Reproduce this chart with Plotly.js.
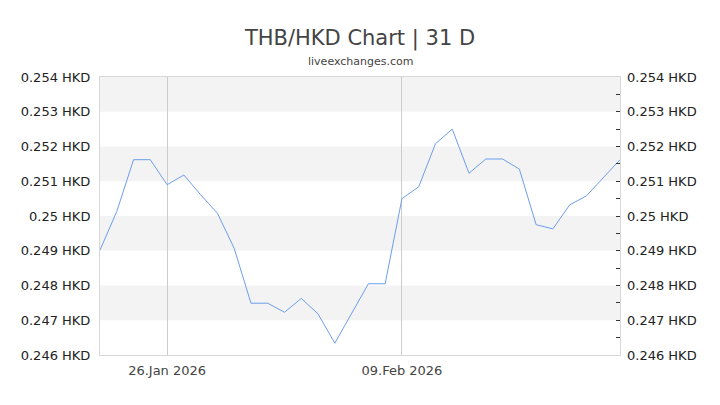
<!DOCTYPE html>
<html>
<head>
<meta charset="utf-8">
<script src="https://cdn.plot.ly/plotly-3.0.1.min.js"></script>
<style>html,body{margin:0;padding:0;background:#fff;}#chart{width:720px;height:405px;}</style>
</head>
<body>
<div id="chart"></div>
<script>
// Data
const startDate = '2026-01-22';
const rates = [
  0.24902, 0.25013, 0.25162, 0.25162, 0.25090, 0.25118, 0.25061, 0.25008,
  0.24907, 0.24749, 0.24749, 0.24723, 0.24763, 0.24718, 0.24634, 0.24719,
  0.24805, 0.24805, 0.25050, 0.25084, 0.25208, 0.25250, 0.25123, 0.25164,
  0.25164, 0.25135, 0.24975, 0.24963, 0.25032, 0.25058, 0.25110, 0.25162
];
const xTickVals = ['2026-01-26', '2026-02-09'];
const xTickText = ['26.Jan 2026', '09.Feb 2026'];
const yTickVals = [0.246, 0.247, 0.248, 0.249, 0.250, 0.251, 0.252, 0.253, 0.254];
const yTickText = ['0.246 HKD', '0.247 HKD', '0.248 HKD', '0.249 HKD', '0.25 HKD', '0.251 HKD', '0.252 HKD', '0.253 HKD', '0.254 HKD'];
const yHalfTicks = [0.2465, 0.2475, 0.2485, 0.2495, 0.2505, 0.2515, 0.2525, 0.2535];

// build dates
const dates = rates.map((_, i) => {
  const d = new Date(startDate + 'T00:00:00Z');
  d.setUTCDate(d.getUTCDate() + i);
  return d.toISOString().slice(0, 10);
});

// alternating bands
const shapes = [];
for (let i = 1; i < yTickVals.length; i += 2) {
  shapes.push({
    type: 'rect', xref: 'paper', yref: 'y', x0: 0, x1: 1,
    y0: yTickVals[i], y1: yTickVals[i + 1],
    fillcolor: '#f3f3f3', line: {width: 0}, layer: 'below'
  });
}

// right axis ticks: all half-steps plus labels
const rightVals = yTickVals.concat(yHalfTicks).sort((a, b) => a - b);
const rightText = rightVals.map(v => {
  const k = yTickVals.findIndex(t => Math.abs(t - v) < 1e-9);
  return k >= 0 ? yTickText[k] : '';
});

const font = {family: 'DejaVu Sans, sans-serif', size: 13, color: '#222'};

const traces = [
  {
    x: dates, y: rates, type: 'scatter', mode: 'lines',
    line: {color: '#6d9eeb', width: 1}, hoverinfo: 'skip', showlegend: false
  },
  {
    x: dates, y: rates, type: 'scatter', mode: 'lines', yaxis: 'y2',
    line: {color: 'rgba(0,0,0,0)', width: 0}, hoverinfo: 'skip', showlegend: false
  }
];

const layout = {
  width: 720, height: 405,
  margin: {l: 100, r: 100, t: 77, b: 50},
  paper_bgcolor: '#fff', plot_bgcolor: '#fff',
  font: font,
  title: {
    text: 'THB/HKD Chart | 31 D',
    font: {family: 'DejaVu Sans, sans-serif', size: 21, color: '#444'},
    x: 0.5, xanchor: 'center', xref: 'paper',
    y: 1 - 38 / 405, yref: 'container', yanchor: 'middle'
  },
  annotations: [{
    text: 'liveexchanges.com', xref: 'paper', yref: 'paper',
    x: 0.5, y: 1 + 15 / 278, xanchor: 'center', yanchor: 'middle',
    showarrow: false,
    font: {family: 'DejaVu Sans, sans-serif', size: 11, color: '#444'}
  }],
  xaxis: {
    type: 'date',
    range: [dates[0], dates[dates.length - 1]],
    tickmode: 'array', tickvals: xTickVals, ticktext: xTickText,
    showgrid: true, gridcolor: '#cccccc', gridwidth: 1,
    showline: true, linecolor: '#d8d8d8', linewidth: 1, mirror: true,
    ticks: '', ticklabelstandoff: 3,
    tickfont: {family: 'DejaVu Sans, sans-serif', size: 13, color: '#444'},
    zeroline: false, fixedrange: true
  },
  yaxis: {
    range: [0.246, 0.254],
    tickmode: 'array', tickvals: yTickVals, ticktext: yTickText,
    showgrid: false, zeroline: false,
    showline: true, linecolor: '#d8d8d8', linewidth: 1, mirror: true,
    ticks: '', ticklabelstandoff: 6,
    tickfont: {family: 'DejaVu Sans, sans-serif', size: 13, color: '#222'},
    fixedrange: true
  },
  yaxis2: {
    overlaying: 'y', side: 'right',
    range: [0.246, 0.254],
    tickmode: 'array', tickvals: rightVals, ticktext: rightText,
    showgrid: false, zeroline: false, showline: false,
    ticks: 'inside', ticklen: 4, tickwidth: 1, tickcolor: '#333',
    ticklabelstandoff: 6,
    tickfont: {family: 'DejaVu Sans, sans-serif', size: 13, color: '#222'},
    fixedrange: true
  },
  shapes: shapes
};

Plotly.newPlot('chart', traces, layout, {displayModeBar: false, staticPlot: true});
</script>
</body>
</html>
